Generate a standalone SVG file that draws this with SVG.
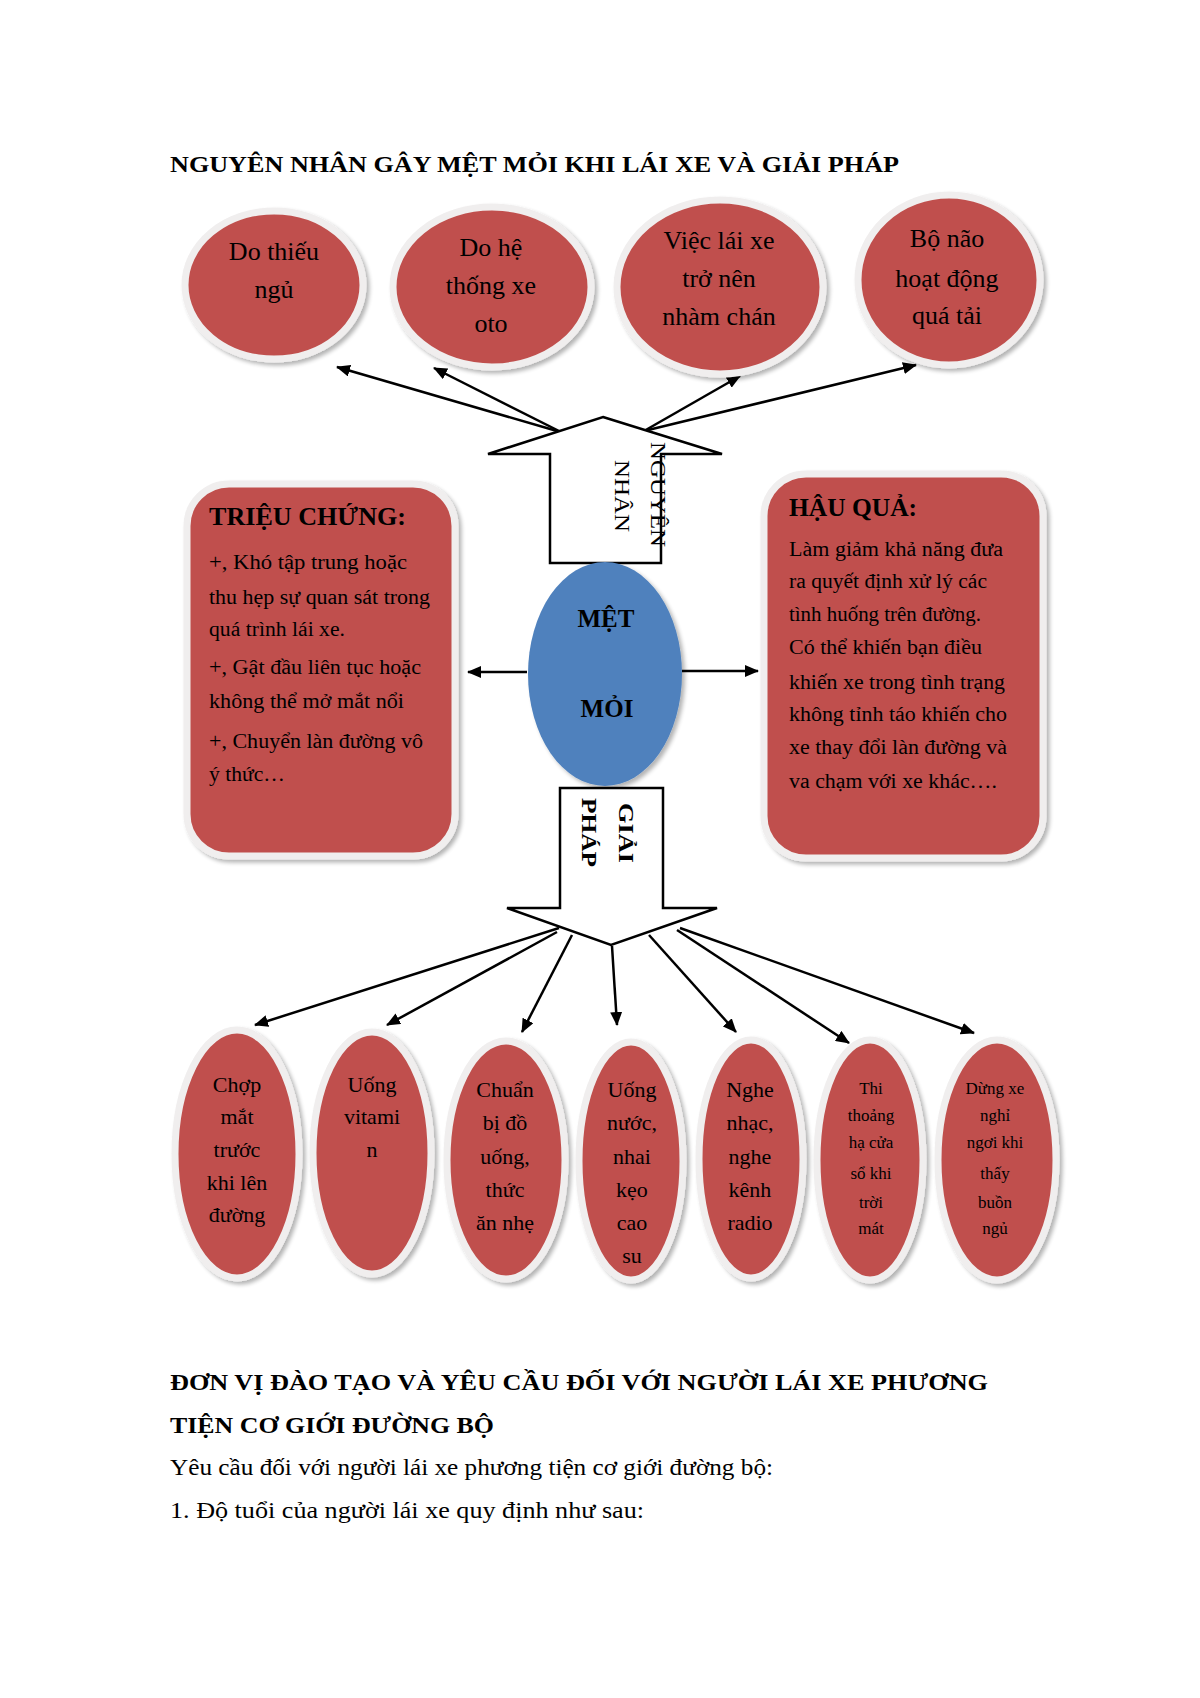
<svg xmlns="http://www.w3.org/2000/svg" width="1200" height="1698" viewBox="0 0 1200 1698">
<defs>
<style>
.t{font-family:"Liberation Serif","Times New Roman",serif;fill:#000}
.b{font-weight:bold}
.red{fill:#c0504d;stroke:#f0eeee;stroke-width:7}
.blue{fill:#4f81bd}
.blk{fill:#fff;stroke:#000;stroke-width:2.5;stroke-linejoin:miter}
.con{stroke:#000;stroke-width:2.5;fill:none;marker-end:url(#ah)}
.c{text-anchor:middle}
</style>
<marker id="ah" markerWidth="14" markerHeight="12" refX="13" refY="6" orient="auto" markerUnits="userSpaceOnUse"><path d="M0,0 L14,6 L0,12 z" fill="#000"/></marker>
<filter id="sh" x="-15%" y="-15%" width="135%" height="135%">
<feGaussianBlur in="SourceAlpha" stdDeviation="2"/>
<feOffset dx="3" dy="3" result="o"/>
<feComponentTransfer><feFuncA type="linear" slope="0.3"/></feComponentTransfer>
<feMerge><feMergeNode/><feMergeNode in="SourceGraphic"/></feMerge>
</filter>
</defs>
<rect width="1200" height="1698" fill="#fff"/>

<text class="t b" x="170" y="172" font-size="24" textLength="729" lengthAdjust="spacingAndGlyphs">NGUYÊN NHÂN GÂY MỆT MỎI KHI LÁI XE VÀ GIẢI PHÁP</text>

<g id="connectors">
<line class="con" x1="557" y1="431" x2="337" y2="367"/>
<line class="con" x1="561" y1="432" x2="434" y2="368"/>
<line class="con" x1="644" y1="431" x2="740" y2="376"/>
<line class="con" x1="644" y1="431" x2="916" y2="365"/>
<line class="con" x1="527" y1="672" x2="468" y2="672"/>
<line class="con" x1="682" y1="671" x2="758" y2="671"/>
<line class="con" x1="559" y1="928" x2="255" y2="1025"/>
<line class="con" x1="557" y1="932" x2="387" y2="1025"/>
<line class="con" x1="572" y1="935" x2="522" y2="1032"/>
<line class="con" x1="612" y1="946" x2="617" y2="1025"/>
<line class="con" x1="649" y1="935" x2="736" y2="1032"/>
<line class="con" x1="677" y1="930" x2="849" y2="1043"/>
<line class="con" x1="680" y1="928" x2="974" y2="1033"/>
</g>

<g id="cause1"><ellipse class="red" filter="url(#sh)" cx="274" cy="285" rx="89" ry="74"/>
<text class="t c" font-size="26" x="274" y="260">Do thiếu</text><text class="t c" font-size="26" x="274" y="298">ngủ</text></g>
<g id="cause2"><ellipse class="red" filter="url(#sh)" cx="492" cy="287" rx="99" ry="80"/>
<text class="t c" font-size="26" x="491" y="256">Do hệ</text><text class="t c" font-size="26" x="491" y="294">thống xe</text><text class="t c" font-size="26" x="491" y="332">oto</text></g>
<g id="cause3"><ellipse class="red" filter="url(#sh)" cx="720" cy="287" rx="103" ry="87"/>
<text class="t c" font-size="26" x="719" y="249">Việc lái xe</text><text class="t c" font-size="26" x="719" y="287">trở nên</text><text class="t c" font-size="26" x="719" y="325">nhàm chán</text></g>
<g id="cause4"><ellipse class="red" filter="url(#sh)" cx="949" cy="280" rx="91" ry="85"/>
<text class="t c" font-size="26" x="947" y="247">Bộ não</text><text class="t c" font-size="26" x="947" y="287">hoạt động</text><text class="t c" font-size="26" x="947" y="324">quá tải</text></g>

<g id="arrow-cause">
<polygon class="blk" points="603,417 722,454 661,454 661,563 550,563 550,454 488,454"/>
<text class="t" font-size="20" transform="translate(651,442) rotate(90)" textLength="105" lengthAdjust="spacingAndGlyphs">NGUYÊN</text>
<text class="t" font-size="20" transform="translate(615,460) rotate(90)" textLength="72" lengthAdjust="spacingAndGlyphs">NHÂN</text>
</g>

<g id="symptoms"><rect class="red" filter="url(#sh)" x="187" y="484" width="268" height="372" rx="42"/>
<text class="t b" font-size="25" x="209" y="525" textLength="197" lengthAdjust="spacingAndGlyphs">TRIỆU CHỨNG:</text>
<text class="t" font-size="20" x="209" y="569" textLength="198" lengthAdjust="spacingAndGlyphs">+, Khó tập trung hoặc</text>
<text class="t" font-size="20" x="209" y="604" textLength="221" lengthAdjust="spacingAndGlyphs">thu hẹp sự quan sát trong</text>
<text class="t" font-size="20" x="209" y="636" textLength="136" lengthAdjust="spacingAndGlyphs">quá trình lái xe.</text>
<text class="t" font-size="20" x="209" y="674" textLength="212" lengthAdjust="spacingAndGlyphs">+, Gật đầu liên tục hoặc</text>
<text class="t" font-size="20" x="209" y="708" textLength="195" lengthAdjust="spacingAndGlyphs">không thể mở mắt nổi</text>
<text class="t" font-size="20" x="209" y="748" textLength="214" lengthAdjust="spacingAndGlyphs">+, Chuyển làn đường vô</text>
<text class="t" font-size="20" x="209" y="781" textLength="76" lengthAdjust="spacingAndGlyphs">ý thức…</text>
</g>

<g id="center"><ellipse class="blue" filter="url(#sh)" cx="605" cy="674" rx="77" ry="112"/>
<text class="t b c" font-size="25" x="606" y="627">MỆT</text>
<text class="t b c" font-size="25" x="607" y="717">MỎI</text></g>

<g id="consequences"><rect class="red" filter="url(#sh)" x="764" y="474" width="279" height="384" rx="42"/>
<text class="t b" font-size="25" x="789" y="516" textLength="128" lengthAdjust="spacingAndGlyphs">HẬU QUẢ:</text>
<text class="t" font-size="20" x="789" y="556" textLength="214" lengthAdjust="spacingAndGlyphs">Làm giảm khả năng đưa</text>
<text class="t" font-size="20" x="789" y="588" textLength="198" lengthAdjust="spacingAndGlyphs">ra quyết định xử lý các</text>
<text class="t" font-size="20" x="789" y="621" textLength="192" lengthAdjust="spacingAndGlyphs">tình huống trên đường.</text>
<text class="t" font-size="20" x="789" y="654" textLength="193" lengthAdjust="spacingAndGlyphs">Có thể khiến bạn điều</text>
<text class="t" font-size="20" x="789" y="689" textLength="216" lengthAdjust="spacingAndGlyphs">khiến xe trong tình trạng</text>
<text class="t" font-size="20" x="789" y="721" textLength="218" lengthAdjust="spacingAndGlyphs">không tỉnh táo khiến cho</text>
<text class="t" font-size="20" x="789" y="754" textLength="218" lengthAdjust="spacingAndGlyphs">xe thay đổi làn đường và</text>
<text class="t" font-size="20" x="789" y="788" textLength="208" lengthAdjust="spacingAndGlyphs">va chạm với xe khác….</text>
</g>

<g id="arrow-solution">
<polygon class="blk" points="560,788 663,788 663,908 717,908 611,945 507,908 560,908"/>
<text class="t b" font-size="22" transform="translate(619,803) rotate(90)" textLength="60" lengthAdjust="spacingAndGlyphs">GIẢI</text>
<text class="t b" font-size="22" transform="translate(582,798) rotate(90)" textLength="69" lengthAdjust="spacingAndGlyphs">PHÁP</text>
</g>

<g id="sol1"><ellipse class="red" filter="url(#sh)" cx="237" cy="1154" rx="62" ry="124"/>
<text class="t c" font-size="22" x="237" y="1092">Chợp</text><text class="t c" font-size="22" x="237" y="1124">mắt</text><text class="t c" font-size="22" x="237" y="1157">trước</text><text class="t c" font-size="22" x="237" y="1190">khi lên</text><text class="t c" font-size="22" x="237" y="1222">đường</text></g>
<g id="sol2"><ellipse class="red" filter="url(#sh)" cx="372" cy="1153" rx="59" ry="121"/>
<text class="t c" font-size="22" x="372" y="1092">Uống</text><text class="t c" font-size="22" x="372" y="1124">vitami</text><text class="t c" font-size="22" x="372" y="1157">n</text></g>
<g id="sol3"><ellipse class="red" filter="url(#sh)" cx="506" cy="1160" rx="59" ry="119"/>
<text class="t c" font-size="22" x="505" y="1097">Chuẩn</text><text class="t c" font-size="22" x="505" y="1130">bị đồ</text><text class="t c" font-size="22" x="505" y="1164">uống,</text><text class="t c" font-size="22" x="505" y="1197">thức</text><text class="t c" font-size="22" x="505" y="1230">ăn nhẹ</text></g>
<g id="sol4"><ellipse class="red" filter="url(#sh)" cx="631" cy="1161" rx="52" ry="119"/>
<text class="t c" font-size="22" x="632" y="1097">Uống</text><text class="t c" font-size="22" x="632" y="1130">nước,</text><text class="t c" font-size="22" x="632" y="1164">nhai</text><text class="t c" font-size="22" x="632" y="1197">kẹo</text><text class="t c" font-size="22" x="632" y="1230">cao</text><text class="t c" font-size="22" x="632" y="1263">su</text></g>
<g id="sol5"><ellipse class="red" filter="url(#sh)" cx="751" cy="1159" rx="52" ry="119"/>
<text class="t c" font-size="22" x="750" y="1097">Nghe</text><text class="t c" font-size="22" x="750" y="1130">nhạc,</text><text class="t c" font-size="22" x="750" y="1164">nghe</text><text class="t c" font-size="22" x="750" y="1197">kênh</text><text class="t c" font-size="22" x="750" y="1230">radio</text></g>
<g id="sol6"><ellipse class="red" filter="url(#sh)" cx="870" cy="1160" rx="53" ry="120"/>
<text class="t c" font-size="17" x="871" y="1094">Thi</text><text class="t c" font-size="17" x="871" y="1121">thoảng</text><text class="t c" font-size="17" x="871" y="1148">hạ cửa</text><text class="t c" font-size="17" x="871" y="1179">sổ khi</text><text class="t c" font-size="17" x="871" y="1208">trời</text><text class="t c" font-size="17" x="871" y="1234">mát</text></g>
<g id="sol7"><ellipse class="red" filter="url(#sh)" cx="997" cy="1160" rx="59" ry="120"/>
<text class="t c" font-size="17" x="995" y="1094">Dừng xe</text><text class="t c" font-size="17" x="995" y="1121">nghỉ</text><text class="t c" font-size="17" x="995" y="1148">ngơi khi</text><text class="t c" font-size="17" x="995" y="1179">thấy</text><text class="t c" font-size="17" x="995" y="1208">buồn</text><text class="t c" font-size="17" x="995" y="1234">ngủ</text></g>

<text class="t b" x="170" y="1390" font-size="24" textLength="818" lengthAdjust="spacingAndGlyphs">ĐƠN VỊ ĐÀO TẠO VÀ YÊU CẦU ĐỐI VỚI NGƯỜI LÁI XE PHƯƠNG</text>
<text class="t b" x="170" y="1433" font-size="24" textLength="324" lengthAdjust="spacingAndGlyphs">TIỆN CƠ GIỚI ĐƯỜNG BỘ</text>
<text class="t" x="170" y="1475" font-size="24" textLength="603" lengthAdjust="spacingAndGlyphs">Yêu cầu đối với người lái xe phương tiện cơ giới đường bộ:</text>
<text class="t" x="170" y="1518" font-size="24" textLength="474" lengthAdjust="spacingAndGlyphs">1. Độ tuổi của người lái xe quy định như sau:</text>
</svg>
